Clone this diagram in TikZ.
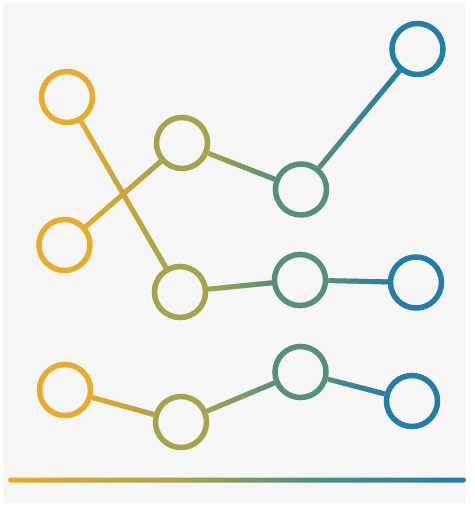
\documentclass[tikz,border=0pt]{standalone}
\usetikzlibrary{fadings}
\definecolor{cY}{RGB}{230,172,45}
\definecolor{cO}{RGB}{166,163,78}
\definecolor{cT}{RGB}{88,142,125}
\definecolor{cB}{RGB}{35,125,165}
\definecolor{bg}{RGB}{246,246,246}
\tikzfading[name=lr, left color=transparent!100, right color=transparent!0]
\pgfdeclarehorizontalshading{barshade}{100bp}{color(0bp)=(cY); color(25bp)=(cY); color(44bp)=(cO); color(57bp)=(cT); color(75bp)=(cB); color(100bp)=(cB)}
\tikzset{
  dot/.style={circle, draw=#1, line width=5.5pt, minimum size=51pt, inner sep=0pt},
  edgebase/.style={draw=#1, line width=5pt},
  edgetop/.style={draw=#1, line width=5pt, path fading=lr}
}
\begin{document}
\begin{tikzpicture}[x=1pt,y=-1pt]
\fill[white] (0,0) rectangle (474,506);
\fill[bg] (3,3) rectangle (465,503);
% nodes
\node[dot=cY] (a) at (67,97) {};
\node[dot=cY] (b) at (64.5,245) {};
\node[dot=cO] (c) at (182,143) {};
\node[dot=cO] (d) at (180,292) {};
\node[dot=cT] (e) at (301,189.5) {};
\node[dot=cB] (f) at (417.5,49) {};
\node[dot=cT] (g) at (300,280) {};
\node[dot=cB] (h) at (416,282.5) {};
\node[dot=cY] (i) at (65,390) {};
\node[dot=cO] (j) at (181,422) {};
\node[dot=cT] (k) at (300.5,372) {};
\node[dot=cB] (l) at (412,401) {};
% edges: base in left colour, faded overlay in right colour
\foreach \u/\v/\cu/\cv in {a/d/cY/cO, b/c/cY/cO, c/e/cO/cT, e/f/cT/cB, d/g/cO/cT, g/h/cT/cB, i/j/cY/cO, j/k/cO/cT, k/l/cT/cB}{
  \path[edgebase=\cu] (\u) -- (\v);
  \path[edgetop=\cv] (\u) -- (\v);
}
% bottom bar
\shade[shading=barshade, rounded corners=2.5pt] (8,477.5) rectangle (466,482.5);
\end{tikzpicture}
\end{document}
